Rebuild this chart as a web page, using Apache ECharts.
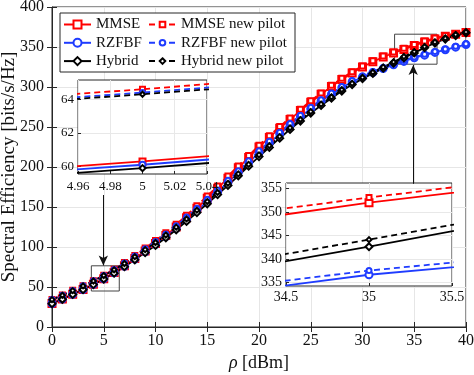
<!DOCTYPE html>
<html>
<head>
<meta charset="utf-8">
<script src="https://cdn.jsdelivr.net/npm/echarts@6/dist/echarts.min.js"></script>
<style>
  html, body { margin: 0; padding: 0; background: #fff; }
  #chart { width: 474px; height: 375px; }
</style>
</head>
<body>
<div id="chart"></div>
<script>
// transmit power axis [dBm]
const rho = [0, 1, 2, 3, 4, 5, 6, 7, 8, 9, 10, 11, 12, 13, 14, 15, 16, 17, 18, 19, 20,
  21, 22, 23, 24, 25, 26, 27, 28, 29, 30, 31, 32, 33, 34, 35, 36, 37, 38, 39, 40];

const mmse = [29.5, 35.0, 41.0, 47.0, 53.3, 60.3, 68.0, 76.5, 85.5, 95.0, 104.5, 114.5, 125.0, 136.5,
  148.5, 161.0, 173.5, 186.0, 199.0, 212.0, 225.0, 237.0, 248.5, 259.5, 270.5, 281.0, 291.0, 300.5,
  309.5, 317.5, 325.0, 331.5, 337.5, 342.5, 347.0, 352.0, 356.2, 360.0, 363.3, 366.0, 368.0];
const mmseNew = [34.5, 39.9, 45.8, 51.6, 57.8, 64.6, 72.2, 80.5, 89.4, 98.7, 108.1, 117.9, 128.3, 139.6,
  151.5, 163.8, 176.2, 188.6, 201.4, 214.3, 227.2, 239.1, 250.5, 261.4, 272.3, 282.7, 292.6, 302.1,
  311.0, 319.0, 326.4, 332.9, 338.8, 343.8, 348.5, 353.1, 357.4, 361.1, 364.3, 367.0, 369.0];
const rzfbf = [29.4, 34.9, 40.9, 46.9, 53.2, 60.1, 67.7, 76.0, 84.8, 94.0, 103.3, 113.0, 123.3, 134.3,
  145.5, 157.0, 168.7, 180.7, 193.0, 205.5, 218.0, 230.0, 241.5, 252.5, 263.0, 273.0, 282.5, 291.0,
  299.0, 306.5, 312.5, 318.0, 323.0, 327.7, 332.0, 336.6, 339.8, 343.2, 346.5, 349.8, 353.0];
const rzfbfNew = [34.4, 39.8, 45.7, 51.5, 57.7, 64.4, 71.9, 80.0, 88.7, 97.7, 106.9, 116.4, 126.6, 137.4,
  148.5, 159.8, 171.4, 183.3, 195.4, 207.8, 220.2, 232.1, 243.5, 254.4, 264.8, 274.7, 284.1, 292.6,
  300.5, 308.0, 313.9, 319.4, 324.3, 329.0, 333.2, 337.5, 340.9, 344.3, 347.5, 350.8, 354.0];
const hybrid = [29.2, 34.7, 40.7, 46.7, 53.0, 59.9, 67.3, 75.4, 84.0, 93.0, 102.0, 111.5, 121.5, 132.0,
  143.0, 154.0, 165.5, 177.0, 189.0, 201.0, 213.0, 224.5, 236.0, 247.0, 257.5, 267.5, 277.0, 286.0,
  295.0, 303.0, 310.5, 317.0, 323.5, 330.0, 336.4, 342.6, 349.2, 355.0, 360.0, 364.3, 367.8];
const hybridNew = [34.2, 39.6, 45.5, 51.3, 57.5, 64.3, 71.5, 79.4, 87.9, 96.7, 105.6, 114.9, 124.8, 135.1,
  146.0, 156.8, 168.2, 179.6, 191.4, 203.3, 215.2, 226.6, 238.0, 248.9, 259.3, 269.2, 278.6, 287.6,
  296.5, 304.5, 311.9, 318.4, 324.8, 331.3, 338.0, 344.1, 350.4, 356.1, 361.0, 365.3, 368.8];

const legendSolid = ['MMSE', 'RZFBF', 'Hybrid'];
const legendNew = ['MMSE new pilot', 'RZFBF new pilot', 'Hybrid new pilot'];

// zoomed insets
const inset1XTicks = [4.96, 4.98, 5, 5.02, 5.04];
const inset1YTicks = [60, 62, 64];
const inset2XTicks = [34.5, 35, 35.5];
const inset2YTicks = [335, 340, 345, 350, 355];

const FONT = "'Liberation Serif', 'DejaVu Serif', serif";
const INK = '#262626';
const RED = '#ff0000', BLUE = '#1f3cff', BLACK = '#000000';

const curves = [
  { name: 'MMSE', ys: mmse, color: RED, symbol: 'emptyRect', dashed: false },
  { name: 'MMSE new pilot', ys: mmseNew, color: RED, symbol: 'emptyRect', dashed: true },
  { name: 'RZFBF', ys: rzfbf, color: BLUE, symbol: 'emptyCircle', dashed: false },
  { name: 'RZFBF new pilot', ys: rzfbfNew, color: BLUE, symbol: 'emptyCircle', dashed: true },
  { name: 'Hybrid', ys: hybrid, color: BLACK, symbol: 'emptyDiamond', dashed: false },
  { name: 'Hybrid new pilot', ys: hybridNew, color: BLACK, symbol: 'emptyDiamond', dashed: true },
];

function pairs(ys) {
  return rho.map((x, i) => [x, ys[i]]);
}

function makeSeries(xi, yi, solidSize, dashSize, z) {
  return curves.map(c => ({
    type: 'line',
    name: c.name,
    xAxisIndex: xi,
    yAxisIndex: yi,
    data: pairs(c.ys),
    symbol: c.symbol,
    symbolSize: c.dashed ? dashSize : solidSize,
    showAllSymbol: true,
    clip: true,
    z: z,
    lineStyle: { color: c.color, width: 1.8, type: c.dashed ? [6, 4] : 'solid' },
    itemStyle: { color: c.color, borderWidth: 1.6 },
    emphasis: { disabled: true },
  }));
}

let myChart = echarts.init(document.getElementById('chart'));

const mainSeries = makeSeries(0, 0, 7, 5, 2);
// zoom boxes and arrows on the main axes
mainSeries[0].markArea = {
  silent: true,
  itemStyle: { color: 'rgba(0,0,0,0)', borderColor: '#444', borderWidth: 1 },
  data: [
    [{ coord: [3.8, 45] }, { coord: [6.5, 76.5] }],
    [{ coord: [33.1, 328.5] }, { coord: [37.2, 366] }],
  ],
};
mainSeries[0].markLine = {
  silent: true,
  symbol: ['none', 'arrow'],
  symbolSize: [7, 10],
  label: { show: false },
  lineStyle: { color: '#111', width: 1, type: 'solid' },
  data: [
    [{ coord: [4.96, 165] }, { coord: [4.96, 77] }],
    [{ coord: [34.9, 179] }, { coord: [34.9, 327.5] }],
  ],
};

function round2(v) {
  return String(Math.round(v * 100) / 100);
}

function insetX(grid, ticks, min, max, size, margin) {
  return {
    type: 'value', gridIndex: grid, min: min, max: max, z: 3,
    axisLine: { show: false },
    axisTick: { show: true, inside: true, length: 3, customValues: ticks, lineStyle: { color: INK } },
    axisLabel: { customValues: ticks, formatter: round2, color: '#111', fontFamily: FONT, fontSize: size, margin: margin },
    splitLine: { show: true, lineStyle: { color: '#e8e8e8', width: 1 } },
  };
}
function insetY(grid, ticks, min, max, size) {
  return {
    type: 'value', gridIndex: grid, min: min, max: max, z: 3,
    axisLine: { show: false },
    axisTick: { show: true, inside: true, length: 3, customValues: ticks, lineStyle: { color: INK } },
    axisLabel: { customValues: ticks, color: '#111', fontFamily: FONT, fontSize: size, margin: 4 },
    splitLine: { show: true, lineStyle: { color: '#e8e8e8', width: 1 } },
  };
}

var option = {
  animation: false,
  backgroundColor: '#ffffff',
  grid: [
    { left: 52, right: 8, top: 7, bottom: 48, show: true, borderColor: INK, borderWidth: 1,
      backgroundColor: '#fff', outerBoundsMode: 'none', containLabel: false },
    { left: 78, top: 80, width: 129, height: 94, show: true, z: 3, borderColor: INK, borderWidth: 1,
      backgroundColor: '#fff', outerBoundsMode: 'none', containLabel: false },
    { left: 286, top: 183, width: 166, height: 103, show: true, z: 3, borderColor: INK, borderWidth: 1,
      backgroundColor: '#fff', outerBoundsMode: 'none', containLabel: false },
  ],
  xAxis: [
    {
      type: 'value', gridIndex: 0, min: 0, max: 40, interval: 5,
      name: '{i|ρ} [dBm]', nameLocation: 'middle', nameGap: 27, nameMoveOverlap: false,
      nameTextStyle: { color: '#111', fontFamily: FONT, fontSize: 18,
        rich: { i: { fontStyle: 'italic', fontFamily: FONT, fontSize: 18, color: '#111' } } },
      axisLine: { show: true, lineStyle: { color: INK } },
      axisTick: { show: true, inside: true, length: 5, lineStyle: { color: INK } },
      axisLabel: { color: '#111', fontFamily: FONT, fontSize: 16, margin: 6 },
      splitLine: { show: true, lineStyle: { color: '#e6e6e6', width: 1 } },
    },
    {
      type: 'value', gridIndex: 0, position: 'top', min: 0, max: 40, interval: 5,
      axisLine: { show: false },
      axisTick: { show: true, inside: true, length: 5, lineStyle: { color: INK } },
      axisLabel: { show: false }, splitLine: { show: false },
    },
    insetX(1, inset1XTicks, 4.96, 5.04, 13, 6),
    insetX(2, inset2XTicks, 34.5, 35.5, 14, 4),
  ],
  yAxis: [
    {
      type: 'value', gridIndex: 0, min: 0, max: 400, interval: 50,
      name: 'Spectral Efficiency [bits/s/Hz]', nameLocation: 'middle', nameGap: 33, nameMoveOverlap: false,
      nameTextStyle: { color: '#111', fontFamily: FONT, fontSize: 19 },
      axisLine: { show: true, lineStyle: { color: INK } },
      axisTick: { show: true, inside: true, length: 5, lineStyle: { color: INK } },
      axisLabel: { color: '#111', fontFamily: FONT, fontSize: 16, margin: 8 },
      splitLine: { show: true, lineStyle: { color: '#e6e6e6', width: 1 } },
    },
    {
      type: 'value', gridIndex: 0, position: 'right', min: 0, max: 400, interval: 50,
      axisLine: { show: false },
      axisTick: { show: true, inside: true, length: 5, lineStyle: { color: INK } },
      axisLabel: { show: false }, splitLine: { show: false },
    },
    insetY(1, inset1YTicks, 59.55, 65.15, 13),
    insetY(2, inset2YTicks, 334.2, 356.2, 14),
  ],
  graphic: {
    elements: [{
      type: 'rect', z: 3, silent: true,
      shape: { x: 60, y: 13, width: 235, height: 59 },
      style: { fill: '#fff', stroke: INK, lineWidth: 1 },
    }],
  },
  legend: [
    {
      data: legendSolid, orient: 'vertical', left: 63, top: 17, padding: 0,
      itemWidth: 27, itemHeight: 10, itemGap: 3.3, selectedMode: false, z: 5,
      textStyle: { color: '#111', fontFamily: FONT, fontSize: 15 },
    },
    {
      data: legendNew, orient: 'vertical', left: 148, top: 17, padding: 0,
      itemWidth: 27, itemHeight: 7, itemGap: 3.3, selectedMode: false, z: 5,
      textStyle: { color: '#111', fontFamily: FONT, fontSize: 15 },
    },
  ],
  series: mainSeries
    .concat(makeSeries(2, 2, 6, 5, 4))
    .concat(makeSeries(3, 3, 7, 5, 4)),
};

myChart.setOption(option);
</script>
</body>
</html>
